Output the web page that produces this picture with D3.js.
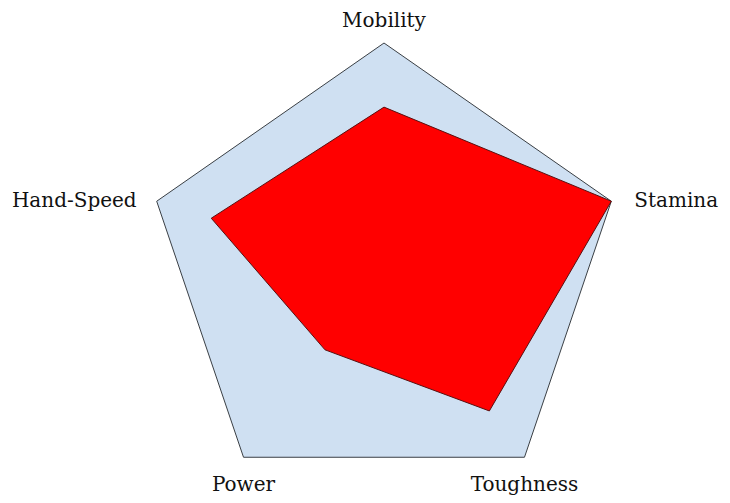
<html>
<head>
<style>
  body { margin: 0; background: #fff; }
  text { font-family: "DejaVu Serif", serif; font-size: 20px; fill: #111; }
</style>
</head>
<body>
<svg id="chart" width="730" height="503"></svg>
<script src="https://cdn.jsdelivr.net/npm/d3@7"></script>
<script>
// skills on the axes, clockwise from the top
let axes = ["Mobility", "Stamina", "Toughness", "Power", "Hand-Speed"]
// rating for each skill, out of 10
let ratings = [7.2, 10, 7.5, 4.2, 7.6]
let maxRating = 10

let svg = d3.select("#chart")
let cx = 384, cy = 272

// the picture is a bit squashed vertically, so two radius scales
let rx = d3.scaleLinear().domain([0, maxRating]).range([0, 239])
let ry = d3.scaleLinear().domain([0, maxRating]).range([0, 229])

let angle = d3.scaleLinear().domain([0, axes.length]).range([0, 2 * Math.PI])

function pt(i, v) {
    let a = angle(i)
    return [cx + rx(v) * Math.sin(a), cy - ry(v) * Math.cos(a)]
}

let line = d3.line().curve(d3.curveLinearClosed)

// outer pentagon
svg.append("path")
    .attr("d", line(axes.map((d, i) => pt(i, maxRating))))
    .attr("fill", "#cfe0f2")
    .attr("stroke", "#3a3f44")
    .attr("stroke-width", 1)

// data polygon
svg.append("path")
    .attr("d", line(ratings.map((v, i) => pt(i, v))))
    .attr("fill", "#ff0000")
    .attr("stroke", "#5a1010")
    .attr("stroke-width", 1)

// labels
svg.selectAll(".lbl")
    .data(axes)
    .enter()
    .append("text")
    .attr("class", "lbl")
    .attr("x", (d, i) => {
        let p = pt(i, maxRating)
        let s = Math.sin(angle(i))
        if (s > 0.9) return p[0] + 23
        if (s < -0.9) return p[0] - 20
        return p[0]
    })
    .attr("y", (d, i) => {
        let p = pt(i, maxRating)
        let c = Math.cos(angle(i))
        if (c > 0.9) return p[1] - 16
        if (c < -0.5) return p[1] + 34
        return p[1] + 6
    })
    .attr("text-anchor", (d, i) => {
        let s = Math.sin(angle(i))
        if (s > 0.9) return "start"
        if (s < -0.9) return "end"
        return "middle"
    })
    .text(d => d)
</script>
</body>
</html>
